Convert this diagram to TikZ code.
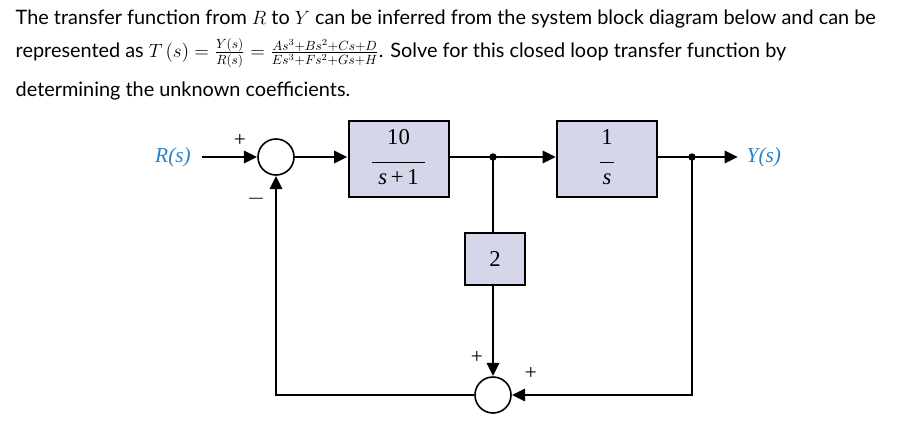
\documentclass[tikz,border=0pt]{standalone}
\usepackage{amsmath}
\usepackage{fontspec}
\setmainfont{Lato}
\newfontfamily\diag{Liberation Serif}
\usetikzlibrary{positioning}
\usetikzlibrary{arrows.meta}
\usetikzlibrary{calc}
\definecolor{sigblue}{RGB}{40,130,200}
\definecolor{blockfill}{RGB}{214,214,234}
\newcommand{\blkfrac}[2]{\begin{tabular}{@{}c@{}}#1\\[-3pt]\rule{#2}{0.8pt}\\[-1pt]\end{tabular}}
\tikzset{
  blk/.style={draw, line width=1.5pt, fill=blockfill, minimum width=75pt, minimum height=57pt, inner sep=0pt, font=\diag\fontsize{17}{19}\selectfont},
  sumc/.style={draw, line width=1.2pt, circle, fill=white, minimum size=27pt, inner sep=0pt},
  sig/.style={line width=2.2pt, -{Triangle[length=10pt,width=9pt]}},
  wire/.style={line width=2.2pt},
  sgn/.style={font=\diag\fontsize{16}{16}\selectfont},
  lab/.style={text=sigblue, font=\diag\itshape\fontsize{16}{16}\selectfont}
}
\begin{document}
\begin{tikzpicture}[x=0.75pt,y=-0.75pt]
\useasboundingbox (0,0) rectangle (905,428);

% question text
\path[font=\fontsize{14.9}{17}\selectfont]
(11,19) node[anchor=west] (lineA) {The transfer function from $R$ to $Y$ can be inferred from the system block diagram below and can be}
(11,53) node[anchor=west] (lineB) {represented as $T\left(s\right)=\frac{Y(s)}{R(s)}=\frac{As^3+Bs^2+Cs+D}{Es^3+Fs^2+Gs+H}$. Solve for this closed loop transfer function by}
(11,91) node[anchor=west] (lineC) {determining the unknown coefficients.};

% blocks
\node[blk] (plant) at (398.5,159) {\begin{tabular}{@{}c@{}}10\\[-5pt]\rule{40pt}{0.8pt}\\[-3pt]\textit{s}\,+\,1\end{tabular}};
\node[blk] (integ) at (607,159) {\begin{tabular}{@{}c@{}}1\\[-5pt]\rule{10pt}{0.8pt}\\[-3pt]\textit{s}\end{tabular}};
\node[blk, minimum width=45pt, minimum height=39pt] (gain) at (495,259) {2};
\node[sumc] (sumA) at (276,157) {};
\node[sumc] (sumB) at (493,395) {};
\coordinate (jA) at (493,157);
\coordinate (jB) at (692,157);
\coordinate (yEnd) at (738,157);
\coordinate (rStart) at (202,157);
\node[lab] (rIn) at (173,157) {R(s)};
\node[lab, anchor=west] (yOut) at (742,157) {Y(s)};

% signals
\draw[sig] (rStart) -- (sumA);
\draw[sig] (sumA) -- (plant.west |- sumA);
\draw[wire] (plant.east |- jA) -- (jA);
\draw[sig] (jA) -- (integ.west |- jA);
\draw[wire] (integ.east |- jB) -- (jB);
\draw[sig] (jB) -- (yEnd);
\draw[wire] (jA) -- (gain.north -| jA);
\draw[sig] (gain.south -| jA) -- (sumB);
\draw[sig] (jB) |- (sumB);
\draw[sig] (sumB) -| (sumA);
\fill (jA) circle (2.8pt);
\fill (jB) circle (2.8pt);

% signs
\node[sgn] (pA) at (240,140) {+};
\node[sgn] (mA) at (256,199) {$-$};
\node[sgn] (pB) at (477,357) {+};
\node[sgn] (pC) at (531,373) {+};
\end{tikzpicture}
\end{document}
